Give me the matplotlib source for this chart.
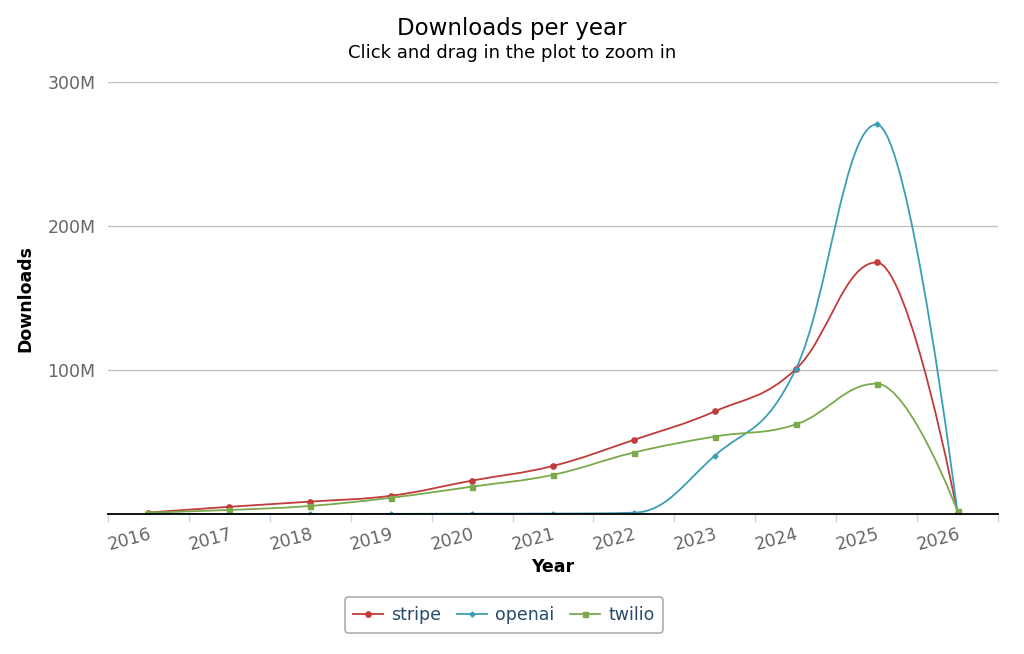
import matplotlib
matplotlib.use("Agg")
import matplotlib.pyplot as plt
from matplotlib.path import Path
from matplotlib.patches import PathPatch
from matplotlib.lines import Line2D
from matplotlib.ticker import FuncFormatter, FixedLocator

years = [2016, 2017, 2018, 2019, 2020, 2021, 2022, 2023, 2024, 2025, 2026]
stripe = [1.0e6, 5.0e6, 8.6e6, 12.7e6, 23.2e6, 33.4e6, 51.5e6, 71.3e6, 100.5e6, 174.7e6, 0.5e6]
openai = [0.0, 0.0, 0.05e6, 0.1e6, 0.2e6, 0.3e6, 0.9e6, 40.5e6, 100.5e6, 270.5e6, 0.4e6]
twilio = [1.0e6, 2.8e6, 5.6e6, 11.3e6, 19.0e6, 27.2e6, 42.7e6, 53.8e6, 62.2e6, 90.5e6, 2.0e6]

series = [
    ("stripe", stripe, "#c23b3b", "o", 3.8),
    ("openai", openai, "#3a9fb6", "D", 2.6),
    ("twilio", twilio, "#7ba94b", "s", 3.6),
]


def spline_path(xs, ys, smoothing=1.5):
    n = len(xs)
    denom = smoothing + 1
    lc = [None] * n
    rc = [None] * n
    for i in range(n):
        px, py = xs[i], ys[i]
        if 0 < i < n - 1:
            lx, ly = xs[i - 1], ys[i - 1]
            nx, ny = xs[i + 1], ys[i + 1]
            lcx = (smoothing * px + lx) / denom
            lcy = (smoothing * py + ly) / denom
            rcx = (smoothing * px + nx) / denom
            rcy = (smoothing * py + ny) / denom
            corr = 0.0
            if rcx != lcx:
                corr = ((rcy - lcy) * (rcx - px)) / (rcx - lcx) + py - rcy
            lcy += corr
            rcy += corr
            if lcy > ly and lcy > py:
                lcy = max(ly, py)
                rcy = 2 * py - lcy
            elif lcy < ly and lcy < py:
                lcy = min(ly, py)
                rcy = 2 * py - lcy
            if rcy > ny and rcy > py:
                rcy = max(ny, py)
                lcy = 2 * py - rcy
            elif rcy < ny and rcy < py:
                rcy = min(ny, py)
                lcy = 2 * py - rcy
            lc[i] = (lcx, lcy)
            rc[i] = (rcx, rcy)
        else:
            lc[i] = (px, py)
            rc[i] = (px, py)
    verts = [(xs[0], ys[0])]
    codes = [Path.MOVETO]
    for i in range(1, n):
        verts += [rc[i - 1], lc[i], (xs[i], ys[i])]
        codes += [Path.CURVE4] * 3
    return Path(verts, codes)


fig = plt.figure(figsize=(10.24, 6.54), dpi=100)
ax = fig.add_axes([108 / 1024, 1 - 514 / 654, 890 / 1024, 432 / 654])

handles = []
for name, vals, color, mk, ms in series:
    p = spline_path(years, vals)
    ax.add_patch(PathPatch(p, fill=False, edgecolor=color, lw=1.3, zorder=3, transform=ax.transData))
    ax.plot(years, vals, linestyle="none", marker=mk, color=color, markersize=ms, zorder=4)
    handles.append(Line2D([0], [0], color=color, lw=1.3, marker=mk, markersize=ms))

ax.set_xlim(2015.5, 2026.5)
ax.set_ylim(0, 300e6)

# y axis
ax.yaxis.set_major_locator(FixedLocator([0, 100e6, 200e6, 300e6]))
ax.yaxis.set_major_formatter(FuncFormatter(lambda v, p: "" if v == 0 else f"{int(v / 1e6)}M"))
ax.grid(axis="y", color="#c0c0c0", lw=1.0, zorder=0)
ax.tick_params(axis="y", length=0, pad=9, labelsize=12.5, labelcolor="#666666")

# x axis
ax.xaxis.set_major_locator(FixedLocator(years))
ax.set_xticklabels([str(y) for y in years])
ax.xaxis.set_minor_locator(FixedLocator([y - 0.5 for y in years] + [2026.5]))
ax.tick_params(axis="x", which="major", length=0, pad=8, labelsize=12.5, labelcolor="#666666")
ax.tick_params(axis="x", which="minor", length=6, color="#c8d8e8", width=1)
for lbl in ax.get_xticklabels():
    lbl.set_rotation(15)
    lbl.set_ha("right")
    lbl.set_rotation_mode("anchor")

for s in ["top", "right", "left"]:
    ax.spines[s].set_visible(False)
ax.spines["bottom"].set_color("black")
ax.spines["bottom"].set_linewidth(1.3)
ax.spines["bottom"].set_zorder(5)

ax.set_xlabel("Year", fontsize=12.5, fontweight="bold", color="black", labelpad=3)
ax.set_ylabel("Downloads", fontsize=12.5, fontweight="bold", color="black", labelpad=9)

fig.text(0.5, 1 - 29 / 654, "Downloads per year", ha="center", va="center", fontsize=16.5, color="black")
fig.text(0.5, 1 - 53 / 654, "Click and drag in the plot to zoom in", ha="center", va="center", fontsize=13, color="black")

leg = fig.legend(handles, [s[0] for s in series], loc="center", bbox_to_anchor=(504 / 1024, 1 - 615 / 654),
                 ncol=3, frameon=True, fancybox=True, fontsize=12.5, handlelength=1.7, handletextpad=0.5,
                 columnspacing=0.9, borderpad=0.5, numpoints=1)
leg.get_frame().set_edgecolor("#999999")
leg.get_frame().set_linewidth(1.2)
for t in leg.get_texts():
    t.set_color("#274b6d")

fig.savefig("out.png", dpi=100)
